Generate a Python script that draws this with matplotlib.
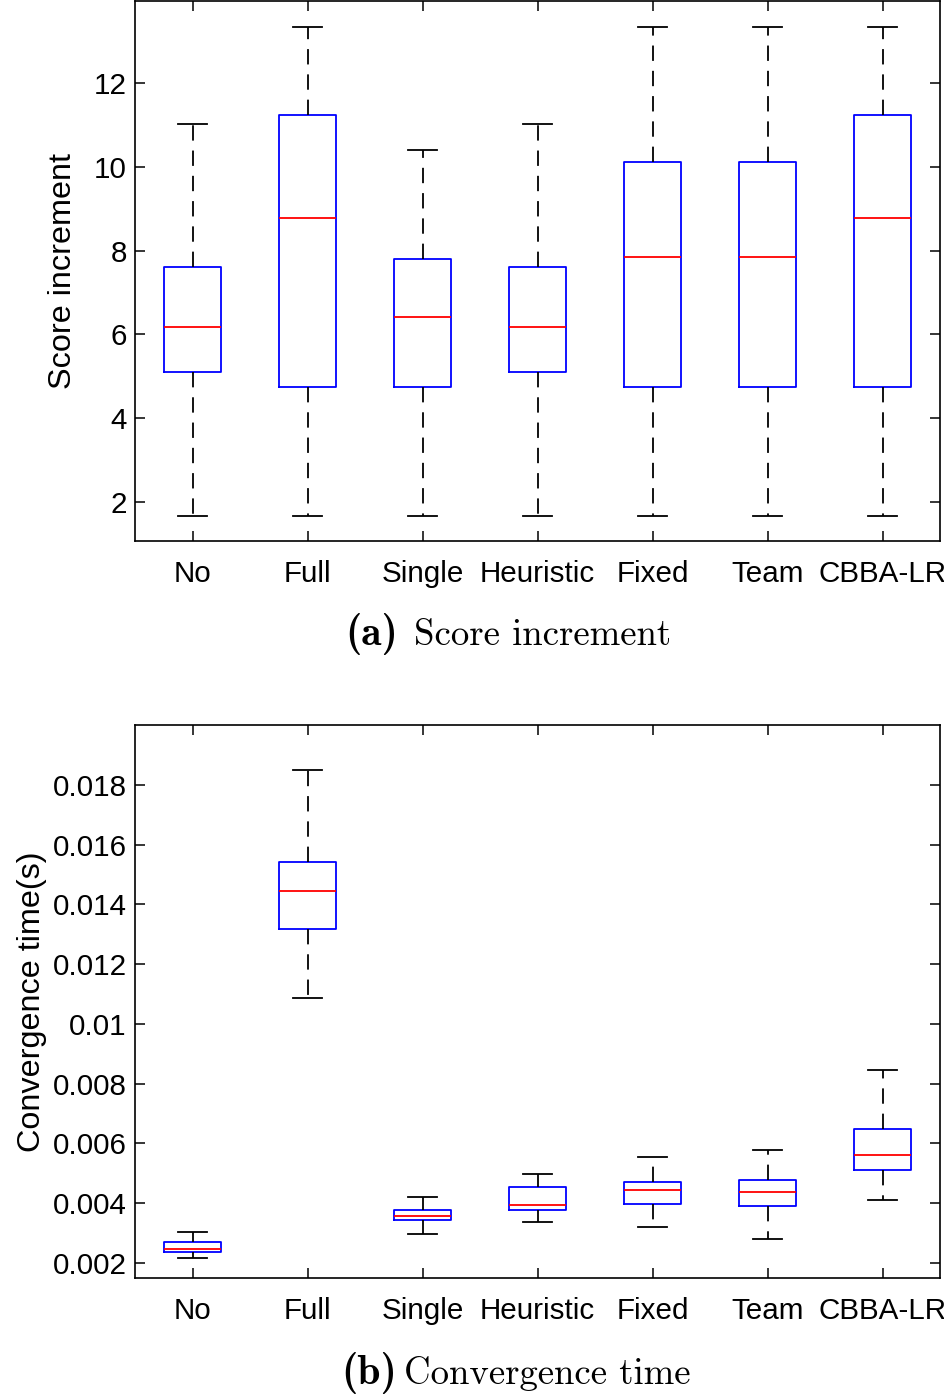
import matplotlib
matplotlib.use("Agg")
import matplotlib.pyplot as plt
from matplotlib.ticker import FuncFormatter

plt.rcParams['font.family'] = ['Liberation Sans', 'DejaVu Sans']
plt.rcParams['mathtext.fontset'] = 'cm'

categories = ["No", "Full", "Single", "Heuristic", "Fixed", "Team", "CBBA-LR"]

# (a) Score increment
score_whislo = [1.65, 1.65, 1.65, 1.65, 1.65, 1.65, 1.65]
score_q1     = [5.10, 4.73, 4.73, 5.10, 4.73, 4.73, 4.73]
score_med    = [6.18, 8.78, 6.42, 6.18, 7.84, 7.84, 8.78]
score_q3     = [7.60, 11.24, 7.80, 7.60, 10.12, 10.12, 11.24]
score_whishi = [11.03, 13.35, 10.41, 11.03, 13.35, 13.35, 13.35]

# (b) Convergence time (s)
time_whislo = [0.00217, 0.01088, 0.00296, 0.00339, 0.00320, 0.00281, 0.00412]
time_q1     = [0.00238, 0.01317, 0.00343, 0.00376, 0.00396, 0.00392, 0.00511]
time_med    = [0.00247, 0.01444, 0.00357, 0.00393, 0.00443, 0.00439, 0.00562]
time_q3     = [0.00269, 0.01543, 0.00378, 0.00455, 0.00470, 0.00478, 0.00648]
time_whishi = [0.00305, 0.01851, 0.00422, 0.00498, 0.00554, 0.00579, 0.00847]

score_ticks = [2, 4, 6, 8, 10, 12]
time_ticks = [0.002, 0.004, 0.006, 0.008, 0.010, 0.012, 0.014, 0.016, 0.018]


def make_stats(lo, q1, med, q3, hi):
    return [dict(whislo=a, q1=b, med=c, q3=d, whishi=e, fliers=[], label=l)
            for a, b, c, d, e, l in zip(lo, q1, med, q3, hi, categories)]


fig = plt.figure(figsize=(9.44, 13.95), dpi=100)
W, H = 944, 1395
ax1 = fig.add_axes([135 / W, 1 - 541 / H, 805 / W, 540 / H])
ax2 = fig.add_axes([135 / W, 1 - 1278 / H, 805 / W, 553 / H])

lw = 1.3
for ax, stats in [(ax1, make_stats(score_whislo, score_q1, score_med, score_q3, score_whishi)),
                  (ax2, make_stats(time_whislo, time_q1, time_med, time_q3, time_whishi))]:
    ax.bxp(stats, positions=range(1, len(categories) + 1), widths=0.5,
           showfliers=False,
           boxprops=dict(color=(0, 0, 1), linewidth=lw),
           medianprops=dict(color=(1, 0, 0), linewidth=lw),
           whiskerprops=dict(color='black', linewidth=lw, linestyle=(0, (8.5, 5.5))),
           capprops=dict(color='black', linewidth=lw))
    ax.set_xlim(0.5, 7.5)
    ax.set_xticks(range(1, len(categories) + 1))
    ax.set_xticklabels(categories)
    ax.tick_params(direction='in', top=True, right=True, length=7, width=1.1,
                   labelsize=21.3)
    ax.tick_params(axis='x', pad=14)
    ax.tick_params(axis='y', pad=6)
    for sp in ax.spines.values():
        sp.set_linewidth(1.2)

ax1.set_ylim(1.06, 13.97)
ax1.set_yticks(score_ticks)
ax1.set_ylabel("Score increment", fontsize=23.3, labelpad=11)

ax2.set_ylim(0.0015, 0.0200)
ax2.set_yticks(time_ticks)
ax2.yaxis.set_major_formatter(FuncFormatter(lambda v, p: "%g" % round(v, 6)))
ax2.set_ylabel("Convergence time(s)", fontsize=23.3, labelpad=4)

cap_fs = 26.5
bold_fs = 30
fig.text(398 / W, 1 - 645 / H, "(a)", family='cmb10', fontsize=bold_fs,
         ha='right', va='baseline')
fig.text(414 / W, 1 - 645 / H, "Score increment", family='cmr10', fontsize=cap_fs,
         ha='left', va='baseline')
fig.text(397 / W, 1 - 1384 / H, "(b)", family='cmb10', fontsize=bold_fs,
         ha='right', va='baseline')
fig.text(404 / W, 1 - 1384 / H, "Convergence time", family='cmr10', fontsize=cap_fs,
         ha='left', va='baseline')

fig.savefig("out.png", dpi=100)
